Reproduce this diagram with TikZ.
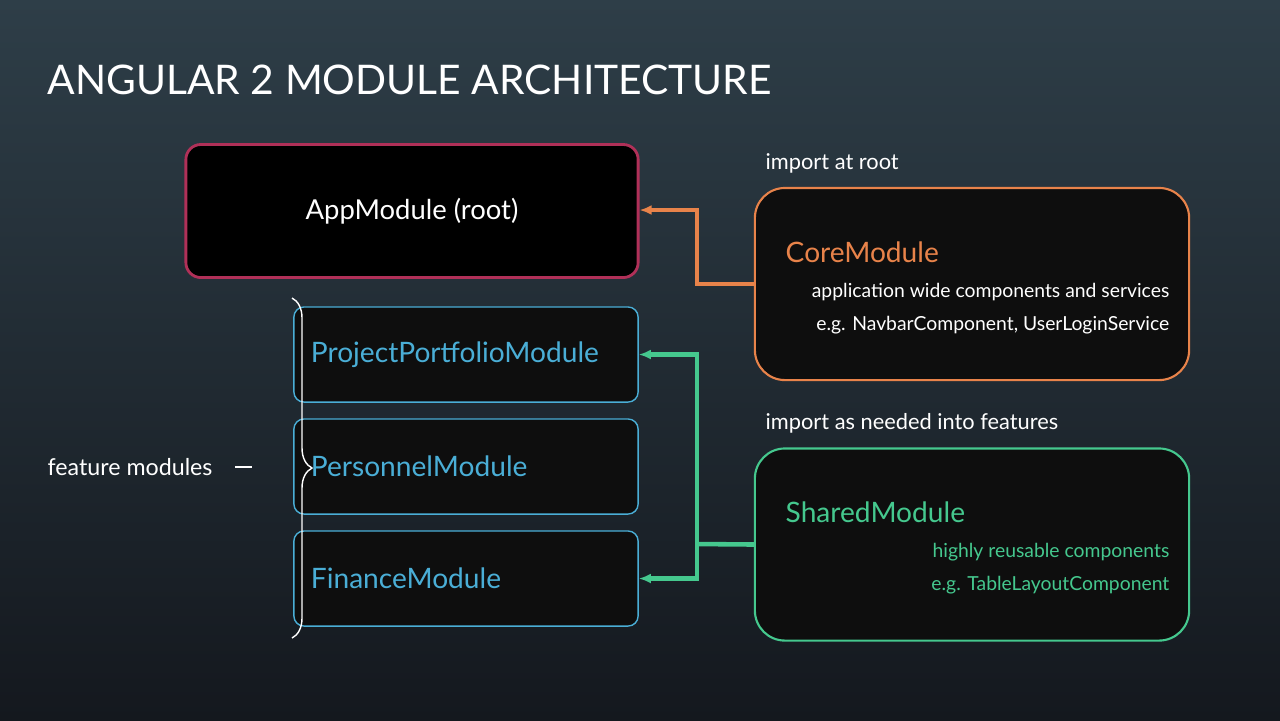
\documentclass[tikz,border=0pt]{standalone}
\usepackage{fontspec}
\setmainfont{Lato}
\usetikzlibrary{arrows.meta,decorations.pathreplacing}
\definecolor{bgtop}{HTML}{2E3E48}
\definecolor{bgbot}{HTML}{14181E}
\definecolor{rootred}{HTML}{B03058}
\definecolor{featblue}{HTML}{4AAED6}
\definecolor{coreorange}{HTML}{E8834A}
\definecolor{sharedgreen}{HTML}{45C88E}
\definecolor{boxfill}{HTML}{0E0E0E}
\begin{document}
\begin{tikzpicture}[
    x=0.01cm, y=-0.01cm,
    every node/.style={inner sep=0pt},
    feature/.style={rectangle, rounded corners=0.1cm, draw=featblue, fill=boxfill, minimum width=3.44cm, minimum height=0.95cm, text=featblue, font=\fontsize{8}{9}\selectfont, align=left, text width=3.1cm},
    holder/.style={rectangle, rounded corners=0.3cm, fill=boxfill, minimum width=4.34cm, minimum height=1.92cm, line width=0.6pt},
    note/.style={text=white, font=\fontsize{5.5}{6}\selectfont, anchor=east},
    label/.style={text=white, font=\fontsize{6.2}{7}\selectfont, anchor=west},
    arrow/.style={-{Latex[length=0.12cm,width=0.1cm]}, line width=1.3pt}
]
    % background
    \shade[top color=bgtop, bottom color=bgbot] (0,0) rectangle (1280,720);
    \node[anchor=west, text=white, font=\fontsize{11.6}{12}\selectfont] (title) at (47,80) {ANGULAR 2 MODULE ARCHITECTURE};

    % root module
    \node[rectangle, rounded corners=0.15cm, draw=rootred, line width=0.8pt, fill=black, minimum width=4.52cm, minimum height=1.33cm, text=white, font=\fontsize{7.8}{8}\selectfont] (app) at (412,211) {AppModule (root)};

    % feature modules
    \node[feature] (portfolio) at (466,354.5) {ProjectPortfolioModule};
    \node[feature] (personnel) at (466,466.5) {PersonnelModule};
    \node[feature] (finance) at (466,578.5) {FinanceModule};
    \draw[white, decoration={brace, amplitude=0.2cm}, decorate] (292,298) -- (292,638);
    \node[anchor=west, text=white, font=\fontsize{6.6}{7}\selectfont] (features) at (47,467) {feature modules};
    \coordinate (bracetip) at (252,467);
    \draw[white] (235,467) coordinate (lead) -- (bracetip);

    % core module
    \node[holder, draw=coreorange] (core) at (972,284) {};
    \node[label] (coreroot) at (765,163) {import at root};
    \node[anchor=west, text=coreorange, font=\fontsize{8}{9}\selectfont] (corename) at (785,252) {CoreModule};
    \node[note] (corenote) at (1170,292) {application wide components and services};
    \node[note] (coreeg) at (1170,325) {e.g. NavbarComponent, UserLoginService};

    % shared module
    \node[holder, draw=sharedgreen] (shared) at (972,544.5) {};
    \node[label] (sharedneed) at (765,423) {import as needed into features};
    \node[anchor=west, text=sharedgreen, font=\fontsize{8}{9}\selectfont] (sharedname) at (785,512) {SharedModule};
    \node[note, text=sharedgreen] (sharednote) at (1170,552) {highly reusable components};
    \node[note, text=sharedgreen] (sharedeg) at (1170,585) {e.g. TableLayoutComponent};

    % imports
    \draw[arrow, coreorange] (core.west |- 0,284) -| (697,210) -- (app.east |- 0,210);
    \draw[sharedgreen, line width=1.3pt] (shared.west) -- (697,544);
    \draw[arrow, sharedgreen] (697,544) |- (portfolio.east);
    \draw[arrow, sharedgreen] (697,544) |- (finance.east);
\end{tikzpicture}
\end{document}
